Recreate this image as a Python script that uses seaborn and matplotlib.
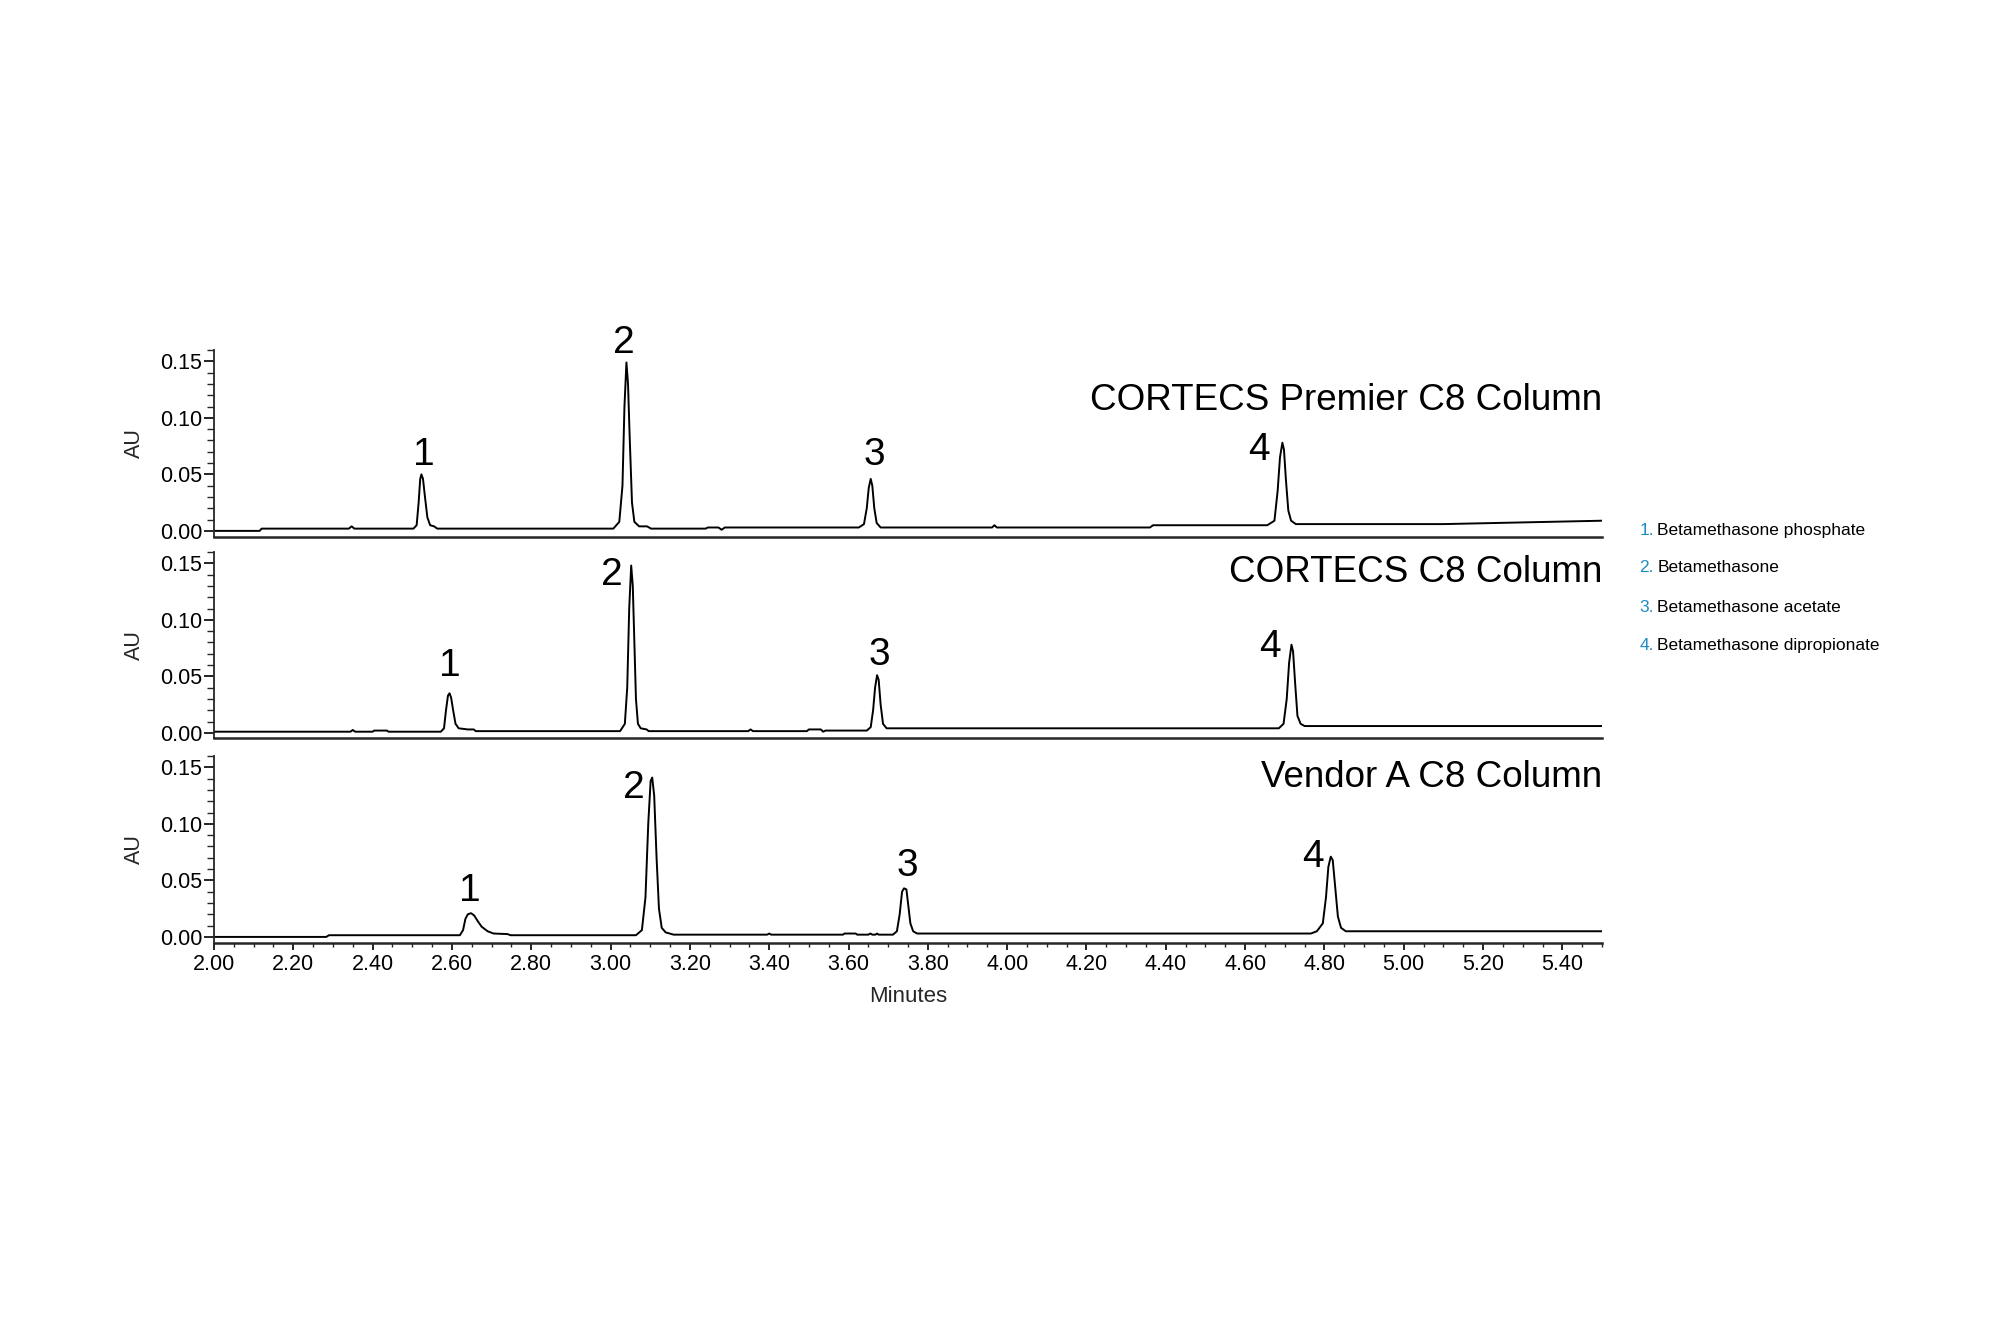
import numpy as np
import pandas as pd
import matplotlib
matplotlib.use("Agg")
import matplotlib.pyplot as plt
from matplotlib.ticker import MultipleLocator, FormatStrFormatter
import seaborn as sns

# chromatogram traces (minutes, AU)
premier_t = [2.000, 2.115, 2.120, 2.340, 2.347, 2.354,
             2.503, 2.511, 2.516, 2.520, 2.523, 2.527, 2.532, 2.538, 2.545, 2.555, 2.563,
             2.900,
             3.007, 3.022, 3.030, 3.035, 3.040, 3.044, 3.048, 3.054, 3.060, 3.072, 3.092, 3.102,
             3.240, 3.245, 3.272, 3.280, 3.288,
             3.626, 3.639, 3.646, 3.651, 3.656, 3.660, 3.665, 3.671, 3.681,
             3.962, 3.968, 3.974,
             4.360, 4.368,
             4.656, 4.674, 4.682, 4.688, 4.694, 4.698, 4.703, 4.709, 4.716, 4.728,
             5.100, 5.500]
premier_au = [0.000, 0.000, 0.002, 0.002, 0.004, 0.002,
              0.002, 0.005, 0.025, 0.046, 0.050, 0.046, 0.030, 0.012, 0.005, 0.004, 0.002,
              0.002,
              0.002, 0.008, 0.040, 0.110, 0.149, 0.130, 0.085, 0.025, 0.008, 0.004, 0.004, 0.002,
              0.002, 0.003, 0.003, 0.001, 0.003,
              0.003, 0.006, 0.020, 0.038, 0.046, 0.040, 0.020, 0.007, 0.003,
              0.003, 0.005, 0.003,
              0.003, 0.005,
              0.005, 0.009, 0.035, 0.065, 0.078, 0.072, 0.045, 0.018, 0.009, 0.006,
              0.006, 0.009]

cortecs_t = [2.000, 2.344, 2.350, 2.356, 2.400, 2.404, 2.436, 2.440,
             2.572, 2.580, 2.585, 2.590, 2.594, 2.598, 2.603, 2.609, 2.617, 2.640, 2.655, 2.660,
             3.024, 3.036, 3.042, 3.047, 3.052, 3.056, 3.060, 3.064, 3.069, 3.076, 3.091, 3.096,
             3.347, 3.353, 3.359,
             3.495, 3.500, 3.530, 3.536, 3.542,
             3.646, 3.656, 3.662, 3.667, 3.672, 3.676, 3.681, 3.687, 3.696,
             4.685, 4.697, 4.705, 4.711, 4.717, 4.721, 4.726, 4.732, 4.740, 4.750,
             5.500]
cortecs_au = [0.001, 0.001, 0.0025, 0.001, 0.001, 0.002, 0.002, 0.001,
              0.001, 0.004, 0.020, 0.033, 0.035, 0.031, 0.020, 0.008, 0.004, 0.003, 0.003, 0.0015,
              0.0015, 0.008, 0.040, 0.110, 0.148, 0.130, 0.080, 0.030, 0.008, 0.004, 0.003, 0.0015,
              0.0015, 0.003, 0.0015,
              0.0015, 0.003, 0.003, 0.001, 0.002,
              0.002, 0.005, 0.020, 0.040, 0.051, 0.047, 0.025, 0.008, 0.004,
              0.004, 0.008, 0.030, 0.062, 0.078, 0.072, 0.045, 0.015, 0.008, 0.006,
              0.006]

vendor_t = [2.000, 2.283, 2.290,
            2.620, 2.628, 2.634, 2.640, 2.648, 2.656, 2.665, 2.675, 2.690, 2.705, 2.740, 2.748,
            3.064, 3.079, 3.088, 3.095, 3.101, 3.105, 3.110, 3.116, 3.122, 3.129, 3.139, 3.159,
            3.395, 3.400, 3.405,
            3.586, 3.590, 3.618, 3.622, 3.650, 3.655, 3.660, 3.668, 3.672, 3.676,
            3.712, 3.722, 3.729, 3.735, 3.740, 3.746, 3.750, 3.756, 3.763, 3.773,
            4.766, 4.781, 4.796, 4.804, 4.810, 4.816, 4.821, 4.827, 4.834, 4.842, 4.854,
            5.500]
vendor_au = [0.000, 0.000, 0.0015,
             0.0015, 0.006, 0.016, 0.020, 0.021, 0.019, 0.014, 0.009, 0.005, 0.003, 0.0025, 0.0015,
             0.0015, 0.006, 0.035, 0.100, 0.138, 0.141, 0.125, 0.070, 0.025, 0.008, 0.004, 0.002,
             0.002, 0.003, 0.002,
             0.002, 0.003, 0.003, 0.002, 0.002, 0.003, 0.002, 0.002, 0.003, 0.002,
             0.002, 0.005, 0.020, 0.040, 0.043, 0.042, 0.030, 0.012, 0.005, 0.003,
             0.003, 0.005, 0.012, 0.035, 0.062, 0.071, 0.068, 0.045, 0.018, 0.008, 0.005,
             0.005]

column_names = ["CORTECS Premier C8 Column", "CORTECS C8 Column", "Vendor A C8 Column"]
title_y = [0.1155, 0.142, 0.141]

peak_labels = ["1", "2", "3", "4"]
premier_label_t = [2.528, 3.033, 3.664, 4.634]
premier_label_au = [0.067, 0.166, 0.067, 0.072]
cortecs_label_t = [2.594, 3.004, 3.679, 4.662]
cortecs_label_au = [0.059, 0.140, 0.069, 0.076]
vendor_label_t = [2.646, 3.058, 3.748, 4.772]
vendor_label_au = [0.041, 0.132, 0.063, 0.071]

compounds = ["Betamethasone phosphate", "Betamethasone",
             "Betamethasone acetate", "Betamethasone dipropionate"]

traces = [(premier_t, premier_au, premier_label_t, premier_label_au),
          (cortecs_t, cortecs_au, cortecs_label_t, cortecs_label_au),
          (vendor_t, vendor_au, vendor_label_t, vendor_label_au)]

sns.set_style("ticks")
plt.rcParams['font.family'] = ['Liberation Sans', 'DejaVu Sans']

fig = plt.figure(figsize=(20, 13.33), dpi=100)
bottoms = [0.5975, 0.4460, 0.2929]
axes = []
for i, (t, au, lt, la) in enumerate(traces):
    ax = fig.add_axes([0.107, bottoms[i], 0.694, 0.1399])
    df = pd.DataFrame({"Minutes": t, "AU": au})
    sns.lineplot(data=df, x="Minutes", y="AU", ax=ax, color="black",
                 linewidth=1.4, sort=False, estimator=None)
    ax.set_xlim(2.0, 5.5)
    ax.set_ylim(-0.005, 0.16)
    ax.yaxis.set_major_locator(MultipleLocator(0.05))
    ax.yaxis.set_minor_locator(MultipleLocator(0.01))
    ax.yaxis.set_major_formatter(FormatStrFormatter("%.2f"))
    ax.xaxis.set_major_locator(MultipleLocator(0.2))
    ax.xaxis.set_minor_locator(MultipleLocator(0.05))
    ax.xaxis.set_major_formatter(FormatStrFormatter("%.2f"))
    sns.despine(ax=ax)
    ax.spines["left"].set_linewidth(1.3)
    ax.spines["bottom"].set_linewidth(1.8)
    ax.tick_params(axis="y", which="major", length=7.5, width=1.2, pad=1,
                   labelsize=15.5, colors="black")
    ax.tick_params(axis="y", which="minor", length=5, width=1.0)
    ax.set_ylabel("AU", fontsize=15.5)
    ax.yaxis.set_label_coords(-0.05, 0.5)
    if i < 2:
        ax.tick_params(axis="x", which="both", bottom=False, labelbottom=False)
        ax.set_xlabel("")
    else:
        ax.tick_params(axis="x", which="major", length=5, width=1.2, pad=3,
                       labelsize=15.5, colors="black")
        ax.tick_params(axis="x", which="minor", length=3, width=1.0)
        ax.set_xlabel("Minutes", fontsize=16)
        ax.xaxis.set_label_coords(0.5, -0.235)
    ax.text(5.5, title_y[i], column_names[i], ha="right", va="center",
            fontsize=26.5, color="black")
    for lab, x, y in zip(peak_labels, lt, la):
        ax.text(x, y, lab, ha="center", va="center", fontsize=28,
                color="black", clip_on=False)
    axes.append(ax)

legend_y = [0.602, 0.574, 0.544, 0.516]
for k, name in enumerate(compounds):
    fig.text(0.8196, legend_y[k], f"{k + 1}.", color="#1f8bc3", fontsize=12.5,
             ha="left", va="center")
    fig.text(0.8286, legend_y[k], name, color="black", fontsize=12.5,
             ha="left", va="center")

fig.savefig("out.png", dpi=100, facecolor="white")
